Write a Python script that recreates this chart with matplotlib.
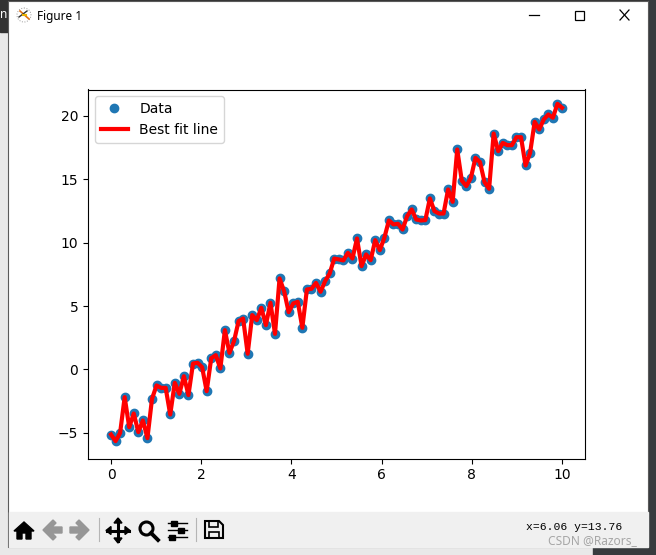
import matplotlib
matplotlib.use('Agg')
import matplotlib.pyplot as plt
from matplotlib.patches import Rectangle, Polygon, Circle
import numpy as np

NUM_POINTS = 100
W, H = 656, 555

y_data = [-5.13, -5.65, -5.00, -2.18, -4.55, -3.47, -4.94, -4.02, -5.41, -2.31,
          -1.26, -1.45, -1.45, -3.55, -1.05, -1.92, -0.53, -2.02, 0.47, 0.53,
          0.18, -1.71, 0.89, 1.13, 0.08, 3.10, 1.31, 2.23, 3.81, 4.02,
          1.24, 4.29, 3.89, 4.86, 3.50, 5.26, 2.81, 7.18, 6.18, 4.52,
          5.21, 5.34, 3.29, 6.31, 6.36, 6.83, 6.13, 6.97, 7.57, 8.75,
          8.68, 8.60, 9.20, 8.75, 10.33, 8.15, 9.07, 8.62, 10.20, 9.41,
          10.38, 11.75, 11.44, 11.49, 11.04, 12.09, 12.62, 11.83, 11.75, 11.78,
          13.49, 12.49, 12.30, 12.30, 14.20, 13.22, 17.35, 14.90, 14.46, 15.11,
          16.69, 16.35, 14.77, 14.25, 18.61, 17.22, 17.87, 17.69, 17.69, 18.32,
          18.32, 16.09, 17.09, 19.53, 18.93, 19.72, 20.11, 19.85, 20.95, 20.64]
x_data = np.linspace(0, 10, NUM_POINTS)

fig = plt.figure(figsize=(W/100, H/100), dpi=100)
fig.patch.set_facecolor('#e9e9e9')


def px_box(left, top, right, bottom):
    return [left/W, 1-bottom/H, (right-left)/W, (bottom-top)/H]


# window chrome, in pixel coordinates with y going down
chrome = fig.add_axes([0, 0, 1, 1], zorder=0)
chrome.set_xlim(0, W)
chrome.set_ylim(H, 0)
chrome.axis('off')
chrome.add_patch(Rectangle((0, 0), W, 1, color='#333333'))
chrome.add_patch(Rectangle((0, 0), 8, 32, color='#333333'))
chrome.add_patch(Rectangle((648, 0), 8, H, color='#383b3e'))
chrome.add_patch(Rectangle((593, 547), 63, 8, color='#383b3e'))
chrome.add_patch(Rectangle((8, 1), 640, 546, facecolor='white', edgecolor='#5a5a5a', lw=0.8))
chrome.add_patch(Rectangle((8.5, 512), 639, 34.5, color='#f0f0f0'))
chrome.text(37, 16.5, 'Figure 1', fontsize=8.5, family='Noto Sans', va='center', color='black')
chrome.text(0, 15, 'n', fontsize=8.5, family='Noto Sans', va='center', color='white')

# title bar icon
chrome.add_patch(Circle((24, 15), 7, fill=False, ec='#999999', ls=':', lw=0.7))
chrome.plot([20, 29], [11, 19], color='#e07010', lw=1.2)
chrome.plot([19, 27], [17, 11], color='#333333', lw=1)
chrome.plot([23, 26], [15, 15], color='#e8b000', lw=1.5)

# window buttons
chrome.plot([529, 539], [15, 15], color='black', lw=0.9)
chrome.add_patch(Rectangle((574.5, 10.5), 9, 9, fill=False, ec='black', lw=0.9))
chrome.plot([620, 629], [10, 20], color='black', lw=0.9)
chrome.plot([620, 629], [20, 10], color='black', lw=0.9)

# toolbar icons
chrome.add_patch(Polygon([(14, 531), (24, 522), (34, 531), (31, 531), (31, 539), (26, 539),
                          (26, 533), (22, 533), (22, 539), (17, 539), (17, 531)], color='black'))
chrome.add_patch(Polygon([(43, 530), (53, 520), (56, 523), (52, 527), (62, 527), (62, 533),
                          (52, 533), (56, 537), (53, 540)], color='#969696'))
chrome.add_patch(Polygon([(89, 530), (79, 520), (76, 523), (80, 527), (70, 527), (70, 533),
                          (80, 533), (76, 537), (79, 540)], color='#969696'))
chrome.plot([98.5, 98.5], [518, 541], color='#b5b5b5', lw=0.8)
chrome.plot([107, 129], [530.5, 530.5], color='black', lw=2.2)
chrome.plot([118, 118], [520, 541], color='black', lw=2.2)
for pts in ([(118, 518), (114, 523), (122, 523)], [(118, 543), (114, 538), (122, 538)],
            [(106, 530.5), (111, 526.5), (111, 534.5)], [(130, 530.5), (125, 526.5), (125, 534.5)]):
    chrome.add_patch(Polygon(pts, color='black'))
chrome.add_patch(Circle((146.5, 528.5), 6.5, fill=False, ec='black', lw=2.2))
chrome.plot([151, 158], [533, 540], color='black', lw=2.8)
for yy, xx in ((523, 174), (530, 181), (537, 172)):
    chrome.plot([168, 187], [yy, yy], color='black', lw=1)
    chrome.add_patch(Rectangle((xx-3, yy-2.5), 6, 5, color='black'))
chrome.plot([195.5, 195.5], [518, 541], color='#b5b5b5', lw=0.8)
chrome.add_patch(Polygon([(205, 521), (219, 521), (223, 525), (223, 538), (205, 538)],
                         fill=False, ec='black', lw=1.5))
chrome.add_patch(Rectangle((209, 521), 9, 6, fill=False, ec='black', lw=1.2))
chrome.add_patch(Rectangle((209, 532), 10, 6, fill=False, ec='black', lw=1.2))
chrome.text(526, 527.5, 'x=6.06 y=13.76', fontsize=8.2, family='Liberation Mono', va='center', color='black')
chrome.text(548, 540.5, 'CSDN @Razors_', fontsize=8.6, family='Noto Sans', va='center', color='#a6a6a6')

# the plot itself
ax = fig.add_axes(px_box(88, 89.5, 585, 458.5), zorder=1)
ax.plot(x_data, y_data, 'o', label='Data')
ax.plot(x_data, y_data, 'r', lw=3, label='Best fit line')
ax.set_xlim(-0.51, 10.51)
ax.set_ylim(-7.02, 22.08)
ax.set_xticks([0, 2, 4, 6, 8, 10])
ax.set_yticks([-5, 0, 5, 10, 15, 20])
ax.legend(loc='upper left')

plt.savefig('out.png', dpi=100, facecolor=fig.get_facecolor())
